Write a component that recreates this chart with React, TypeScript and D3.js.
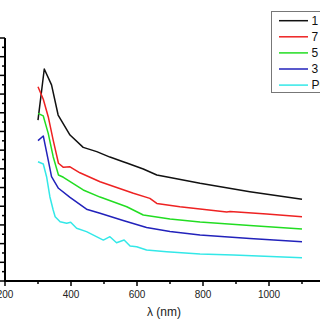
import React from 'react';
import * as d3 from 'd3';

// wavelength (nm) grid per series and absorbance
const blackX = [300, 319, 341, 361, 397, 437, 478, 518, 558, 569, 619, 660, 700, 791, 942, 1100];
const blackY = [0.861, 1.134, 1.049, 0.888, 0.781, 0.715, 0.692, 0.663, 0.638, 0.631, 0.599, 0.567, 0.554, 0.523, 0.478, 0.437];

const redX = [300, 316, 331, 346, 362, 377, 397, 427, 488, 589, 639, 660, 730, 791, 872, 882, 993, 1100];
const redY = [1.039, 0.972, 0.879, 0.754, 0.63, 0.608, 0.611, 0.579, 0.531, 0.469, 0.442, 0.415, 0.397, 0.385, 0.369, 0.372, 0.358, 0.344];

const greenX = [300, 316, 331, 346, 362, 377, 437, 488, 569, 619, 700, 791, 942, 1100];
const greenY = [0.897, 0.883, 0.79, 0.665, 0.567, 0.555, 0.487, 0.449, 0.397, 0.353, 0.332, 0.316, 0.297, 0.278];

const blueX = [300, 316, 331, 341, 362, 397, 447, 488, 558, 629, 700, 791, 942, 1100];
const blueY = [0.751, 0.776, 0.647, 0.558, 0.496, 0.447, 0.384, 0.362, 0.324, 0.286, 0.265, 0.246, 0.227, 0.21];

const cyanX = [300, 316, 326, 336, 346, 352, 367, 387, 399, 417, 447, 498, 518, 538, 561, 579, 599, 629, 690, 791, 892, 1100];
const cyanY = [0.638, 0.626, 0.558, 0.451, 0.38, 0.344, 0.317, 0.309, 0.314, 0.282, 0.264, 0.219, 0.237, 0.205, 0.219, 0.187, 0.183, 0.166, 0.157, 0.144, 0.139, 0.125];

const legendLabels = ['1 wt%', '7 wt%', '5 wt%', '3 wt%', 'Pure'];
const colors = ['#111111', '#ee2222', '#22dd22', '#2222bb', '#33e8e8'];
const xTicks = [200, 400, 600, 800, 1000, 1200];

export default function App() {
  const x = d3.scaleLinear().domain([200, 1200]).range([5, 335]);
  const y = d3.scaleLinear().domain([0, 1.3]).range([281, 38]);

  const series = [
    [blackX, blackY],
    [redX, redY],
    [greenX, greenY],
    [blueX, blueY],
    [cyanX, cyanY],
  ];

  const line = d3.line<[number, number]>()
    .x(d => x(d[0]))
    .y(d => y(d[1]));

  const minorX = d3.range(300, 1200, 200);
  const yMajor = d3.range(0, 1.31, 0.1);
  const yMinor = d3.range(0.05, 1.3, 0.1);

  return (
    <svg width={320} height={320} style={{ position: 'absolute', left: 0, top: 0, background: '#fff' }}
      fontFamily="'Liberation Sans', Arial, sans-serif">
      {series.map((s, i) => (
        <path key={i}
          d={line(s[0].map((v, j) => [v, s[1][j]] as [number, number])) || ''}
          fill="none" stroke={colors[i]} strokeWidth={1.5} strokeLinejoin="round" />
      ))}

      {/* x axis */}
      <line x1={x(200)} x2={x(1200)} y1={y(0)} y2={y(0)} stroke="#000" strokeWidth={2} />
      {xTicks.map(t => (
        <g key={t}>
          <line x1={x(t)} x2={x(t)} y1={y(0)} y2={y(0) + 5} stroke="#000" strokeWidth={1.5} />
          <text x={x(t)} y={297.5} fontSize={10} textAnchor="middle" fill="#222">{t}</text>
        </g>
      ))}
      {minorX.map(t => (
        <line key={t} x1={x(t)} x2={x(t)} y1={y(0)} y2={y(0) + 3} stroke="#000" strokeWidth={1.5} />
      ))}
      <text x={164} y={316} fontSize={12} textAnchor="middle" fill="#222">λ (nm)</text>

      {/* y axis */}
      <line x1={x(200)} x2={x(200)} y1={y(0) + 1} y2={y(1.3)} stroke="#000" strokeWidth={2} />
      {yMajor.map(t => (
        <line key={t} x1={x(200) - 5} x2={x(200)} y1={y(t)} y2={y(t)} stroke="#000" strokeWidth={1.5} />
      ))}
      {yMinor.map(t => (
        <line key={t} x1={x(200) - 3} x2={x(200)} y1={y(t)} y2={y(t)} stroke="#000" strokeWidth={1.5} />
      ))}

      {/* legend */}
      <rect x={271.5} y={11.5} width={60} height={81} fill="#fff" stroke="#777" strokeWidth={1} />
      {legendLabels.map((l, i) => (
        <g key={l}>
          <line x1={279} x2={308} y1={20.7 + i * 16.1} y2={20.7 + i * 16.1} stroke={colors[i]} strokeWidth={1.5} />
          <text x={311.5} y={25 + i * 16.1} fontSize={12} fill="#111">{l}</text>
        </g>
      ))}
    </svg>
  );
}
